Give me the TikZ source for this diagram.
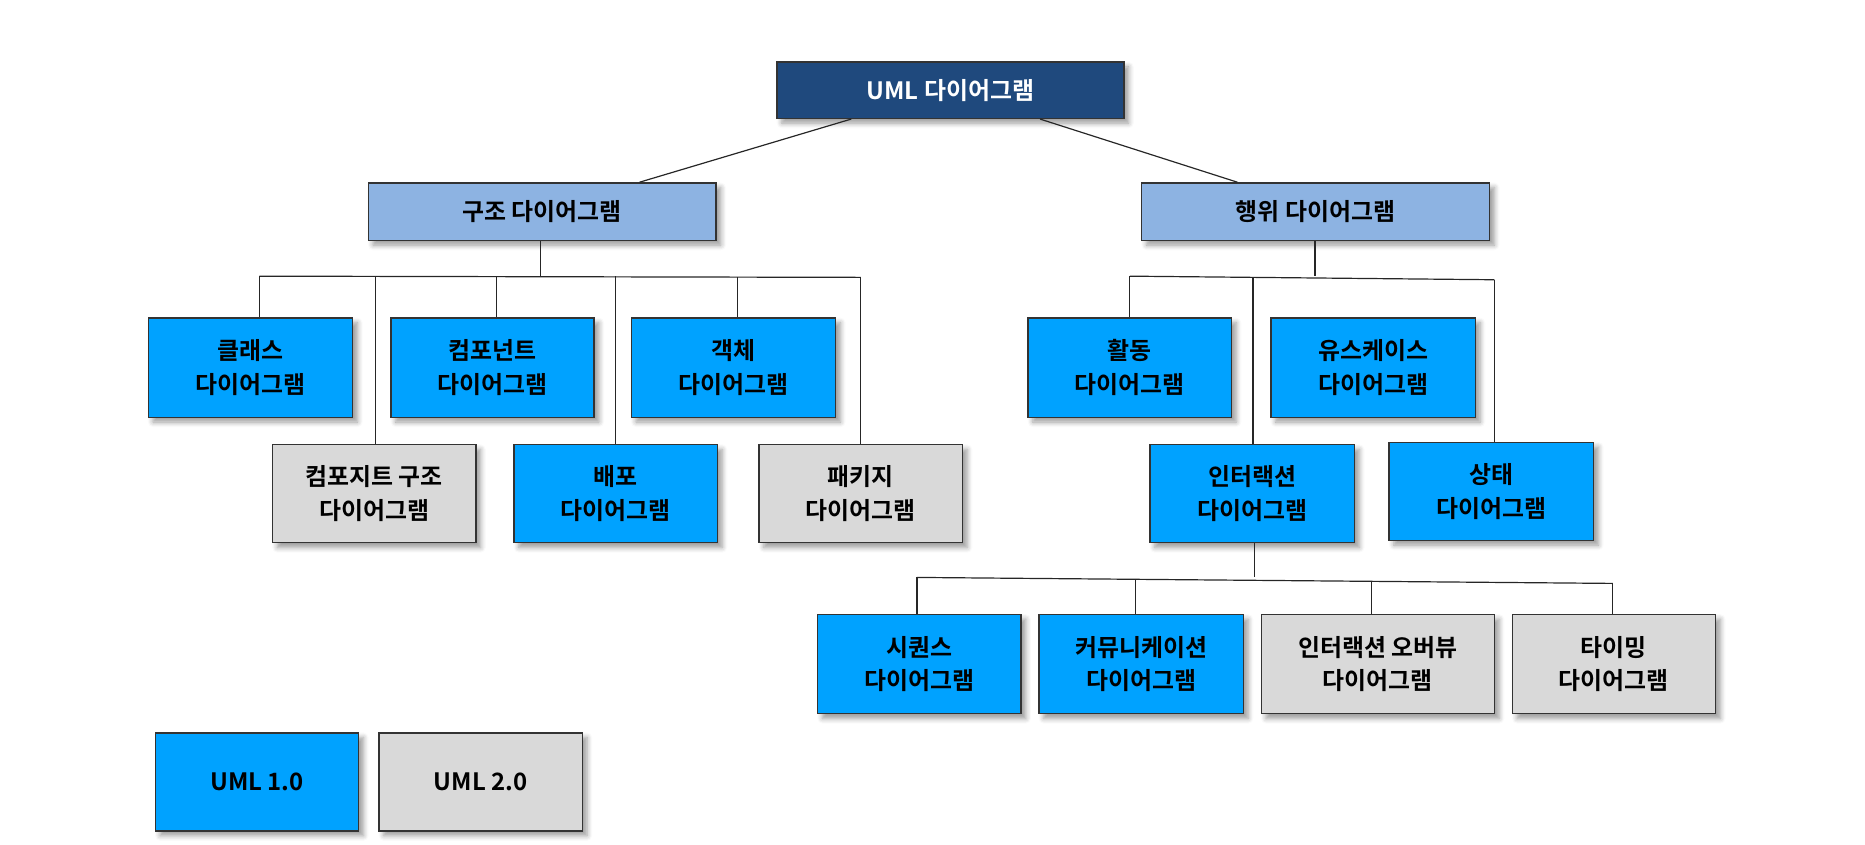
\documentclass[tikz,border=0pt]{standalone}
\usepackage{fontspec}
\setmainfont{Noto Sans CJK KR}[BoldFont={* Bold}]
\usetikzlibrary{shadows.blur}
\definecolor{dk}{HTML}{1F497D}
\definecolor{lb}{HTML}{8DB3E2}
\definecolor{bl}{HTML}{00A2FF}
\definecolor{gr}{HTML}{D9D9D9}
\begin{document}
\begin{tikzpicture}[x=0.5pt,y=-0.5pt,
 box/.style={draw=black!80,line width=0.6pt,inner sep=0pt,align=center,font=\bfseries\fontsize{10}{14}\selectfont,blur shadow={shadow xshift=2pt,shadow yshift=-2pt,shadow blur steps=5}},
 b/.style={box,fill=bl}, g/.style={box,fill=gr}, l/.style={box,fill=lb},
 ln/.style={draw=black!85,line width=0.5pt}]
\useasboundingbox (0,0) rectangle (1560,706);
\newcommand\bx[6]{\node[#1,minimum width={(#4-#3)*0.5pt},minimum height={(#6-#5)*0.5pt}] (#2) at ({(#3+#4)/2},{(#5+#6)/2})}
\bx{box,fill=dk,text=white}{top}{650}{940}{52}{99} {UML 다이어그램};
\bx{l}{st}{308}{599}{153}{201} {구조 다이어그램};
\bx{l}{bh}{955}{1246}{153}{201} {행위 다이어그램};
\bx{b}{cls}{124}{295}{266}{349} {클래스\\다이어그램};
\bx{b}{cmp}{327}{497}{266}{349} {컴포넌트\\다이어그램};
\bx{b}{obj}{528}{699}{266}{349} {객체\\다이어그램};
\bx{g}{cs}{228}{398}{372}{454} {컴포지트 구조\\다이어그램};
\bx{b}{dep}{430}{600}{372}{454} {배포\\다이어그램};
\bx{g}{pkg}{635}{805}{372}{454} {패키지\\다이어그램};
\bx{b}{act}{860}{1030}{266}{349} {활동\\다이어그램};
\bx{b}{uc}{1063}{1234}{266}{349} {유스케이스\\다이어그램};
\bx{b}{int}{962}{1133}{372}{454} {인터랙션\\다이어그램};
\bx{b}{sta}{1162}{1333}{370}{452} {상태\\다이어그램};
\bx{b}{seq}{684}{854}{514}{597} {시퀀스\\다이어그램};
\bx{b}{com}{869}{1040}{514}{597} {커뮤니케이션\\다이어그램};
\bx{g}{iov}{1055}{1250}{514}{597} {인터랙션 오버뷰\\다이어그램};
\bx{g}{tim}{1265}{1435}{514}{597} {타이밍\\다이어그램};
\bx{b}{u1}{130}{300}{613}{695} {UML 1.0};
\bx{g}{u2}{317}{487}{613}{695} {UML 2.0};
\draw[ln] (top.south -| 712,0) -- (st.north -| 535,0);
\draw[ln] (top.south -| 870,0) -- (bh.north -| 1035,0);
% structure bus
\coordinate (sb) at (452,231);
\draw[ln] (st.south -| sb) -- (sb);
\draw[ln] (217,231) -- (720,232);
\draw[ln] (217,231) -- (cls.north -| 217,0);
\draw[ln] (314,231) -- (cs.north -| 314,0);
\draw[ln] (415,231) -- (cmp.north -| 415,0);
\draw[ln] (515,231) -- (dep.north -| 515,0);
\draw[ln] (617,232) -- (obj.north -| 617,0);
\draw[ln] (720,232) -- (pkg.north -| 720,0);
% behaviour bus
\coordinate (bb) at (1100,231);
\draw[ln] (bh.south -| bb) -- (bb);
\draw[ln] (945,231) -- (1250,234);
\draw[ln] (945,231) -- (act.north -| 945,0);
\draw[ln] (1048,232) -- (int.north -| 1048,0);
\draw[ln] (1250,234) -- (sta.north -| 1250,0);
% interaction bus
\coordinate (ib) at (1049,483);
\draw[ln] (int.south -| ib) -- (ib);
\draw[ln] (767,483) -- (1349,488);
\draw[ln] (767,483) -- (seq.north -| 767,0);
\draw[ln] (950,485) -- (com.north -| 950,0);
\draw[ln] (1147,486) -- (iov.north -| 1147,0);
\draw[ln] (1349,488) -- (tim.north -| 1349,0);
\end{tikzpicture}
\end{document}
